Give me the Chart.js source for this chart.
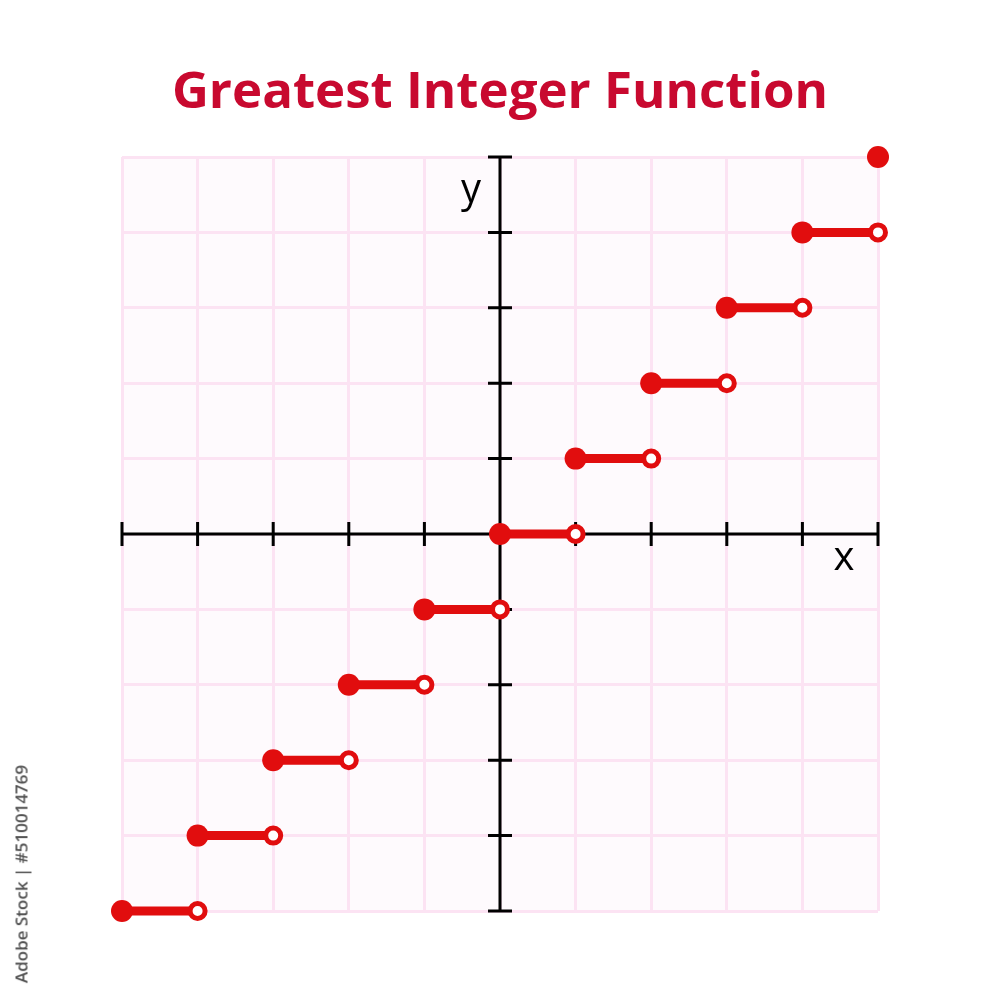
<!DOCTYPE html>
<html>
<head>
    <title>Greatest Integer Function</title>
    <style>
        body {
            margin: 0;
            padding: 0;
            background: #ffffff;
        }
        #wrap {
            position: relative;
            width: 1000px;
            height: 1000px;
        }
        #chart {
            position: absolute;
            left: 0;
            top: 0;
        }
        #title {
            position: absolute;
            left: 0;
            top: 57px;
            width: 1000px;
            height: 62px;
            line-height: 62px;
            text-align: center;
            font-family: "Open Sans", sans-serif;
            font-weight: bold;
            font-size: 51px;
            color: #c8092f;
        }
        #stock {
            position: absolute;
            left: 21px;
            top: 874px;
            transform: translate(-50%, -50%) rotate(-90deg);
            white-space: nowrap;
            font-family: "Open Sans", sans-serif;
            font-weight: 600;
            font-size: 17px;
            color: #505050;
        }
    </style>
</head>
<body>
<div id="wrap">
    <canvas id="chart" width="1000" height="1000"></canvas>
    <div id="title">Greatest Integer Function</div>
    <div id="stock">Adobe Stock | #510014769</div>
</div>
<script src="https://cdn.jsdelivr.net/npm/chart.js"></script>
<script>
    // y = floor(x) on [-5, 5]
    const stepStarts = [-5, -4, -3, -2, -1, 0, 1, 2, 3, 4];
    const stepEnds   = [-4, -3, -2, -1, 0, 1, 2, 3, 4, 5];
    const stepValues = [-5, -4, -3, -2, -1, 0, 1, 2, 3, 4];
    const lastX = [5];
    const lastY = [5];
    const axisTicks = [-5, -4, -3, -2, -1, 0, 1, 2, 3, 4, 5];

    const red = '#e10d0e';

    // segments, separated with a null point so the line breaks
    const segmentData = [];
    stepStarts.forEach((s, i) => {
      segmentData.push({x: s, y: stepValues[i]});
      segmentData.push({x: stepEnds[i], y: stepValues[i]});
      segmentData.push({x: stepEnds[i], y: null});
    });
    const closedData = stepStarts.map((s, i) => ({x: s, y: stepValues[i]}))
      .concat(lastX.map((x, i) => ({x: x, y: lastY[i]})));
    const openData = stepEnds.map((e, i) => ({x: e, y: stepValues[i]}));

    // pale chart area + black axes with ticks, under the red marks
    const axesPlugin = {
      id: 'axes',
      beforeDraw(chart) {
        const {ctx, chartArea} = chart;
        ctx.save();
        ctx.fillStyle = '#fefafd';
        ctx.fillRect(chartArea.left, chartArea.top, chartArea.width, chartArea.height);
        ctx.restore();
      },
      beforeDatasetsDraw(chart) {
        const {ctx, chartArea} = chart;
        const xs = chart.scales.x, ys = chart.scales.y;
        const x0 = xs.getPixelForValue(0), y0 = ys.getPixelForValue(0);
        ctx.save();
        ctx.strokeStyle = '#000000';
        ctx.lineWidth = 3;
        ctx.beginPath();
        ctx.moveTo(chartArea.left, y0);
        ctx.lineTo(chartArea.right, y0);
        ctx.moveTo(x0, chartArea.top);
        ctx.lineTo(x0, chartArea.bottom);
        axisTicks.forEach(t => {
          const px = xs.getPixelForValue(t);
          ctx.moveTo(px, y0 - 12);
          ctx.lineTo(px, y0 + 12);
          const py = ys.getPixelForValue(t);
          ctx.moveTo(x0 - 12, py);
          ctx.lineTo(x0 + 12, py);
        });
        ctx.stroke();

        ctx.fillStyle = '#000000';
        ctx.font = '40px "Open Sans"';
        ctx.textAlign = 'center';
        ctx.textBaseline = 'alphabetic';
        ctx.fillText('x', xs.getPixelForValue(4.55), y0 + 36);
        ctx.fillText('y', x0 - 29, ys.getPixelForValue(4.55) + 11);
        ctx.restore();
      }
    };

    const ctx = document.getElementById('chart').getContext('2d');
    const gridOpts = {
      color: '#fce3f3',
      lineWidth: 3,
      drawTicks: false,
    };

    const chart = new Chart(ctx, {
      type: 'line',
      data: {
        datasets: [
          {
            data: closedData,
            showLine: false,
            pointRadius: 11,
            pointHoverRadius: 11,
            pointBackgroundColor: red,
            pointBorderWidth: 0,
            clip: false,
            order: 1,
          },
          {
            data: openData,
            showLine: false,
            pointRadius: 7.5,
            pointHoverRadius: 7.5,
            pointBackgroundColor: '#ffffff',
            pointBorderColor: red,
            pointBorderWidth: 5,
            clip: false,
            order: 1,
          },
          {
            data: segmentData,
            borderColor: red,
            borderWidth: 9,
            pointRadius: 0,
            spanGaps: false,
            clip: false,
            order: 2,
          },
        ],
      },
      options: {
        responsive: false,
        animation: false,
        devicePixelRatio: 1,
        layout: {
          padding: {left: 122, right: 122, top: 157, bottom: 89},
        },
        scales: {
          x: {
            type: 'linear',
            min: -5,
            max: 5,
            ticks: {stepSize: 1, display: false},
            grid: gridOpts,
            border: {display: false},
          },
          y: {
            type: 'linear',
            min: -5,
            max: 5,
            ticks: {stepSize: 1, display: false},
            grid: gridOpts,
            border: {display: false},
          },
        },
        plugins: {
          legend: {display: false},
          tooltip: {enabled: false},
        },
      },
      plugins: [axesPlugin],
    });
</script>
</body>
</html>
